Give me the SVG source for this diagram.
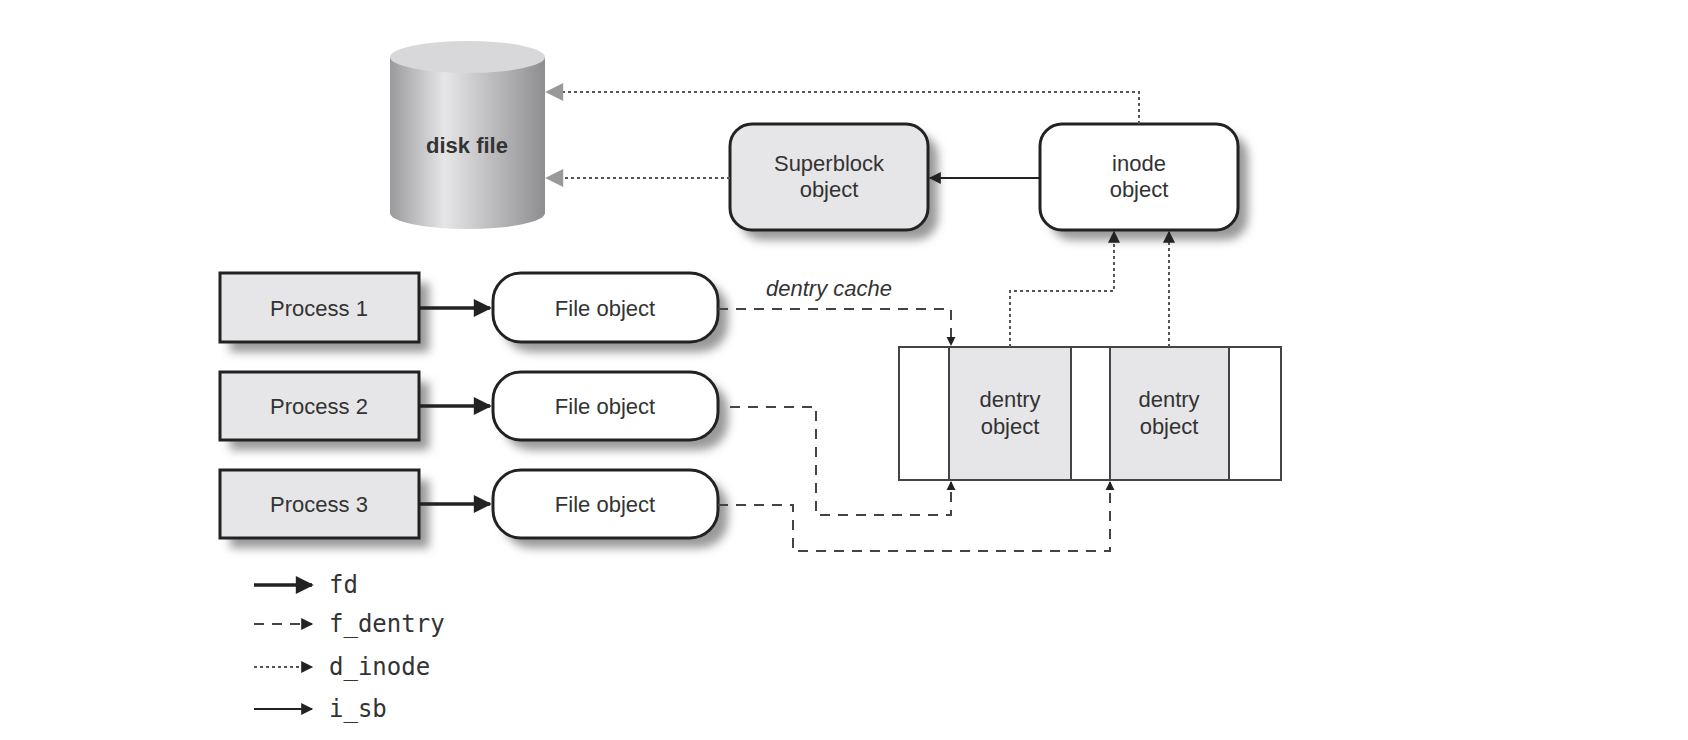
<svg xmlns="http://www.w3.org/2000/svg" width="1688" height="740" viewBox="0 0 1688 740">
<defs>
<linearGradient id="cyl" x1="0" x2="1" y1="0" y2="0"><stop offset="0" stop-color="#9a9a9c"/><stop offset="0.35" stop-color="#e6e6e8"/><stop offset="1" stop-color="#8e8e90"/></linearGradient>
<filter id="sh" x="-20%" y="-20%" width="150%" height="160%"><feGaussianBlur stdDeviation="5"/></filter>
<marker id="ab" viewBox="0 0 10 10" refX="9" refY="5" markerWidth="9" markerHeight="14" orient="auto" markerUnits="userSpaceOnUse"><path d="M0,0L10,5L0,10z" fill="#222"/></marker>
<marker id="abig" viewBox="0 0 10 10" refX="9" refY="5" markerWidth="22" markerHeight="18" orient="auto" markerUnits="userSpaceOnUse"><path d="M0,0L10,5L0,10z" fill="#222"/></marker>
<marker id="am" viewBox="0 0 10 10" refX="9" refY="5" markerWidth="14" markerHeight="12" orient="auto" markerUnits="userSpaceOnUse"><path d="M0,0L10,5L0,10z" fill="#222"/></marker>
<marker id="ag" viewBox="0 0 10 10" refX="9" refY="5" markerWidth="20" markerHeight="18" orient="auto" markerUnits="userSpaceOnUse"><path d="M0,0L10,5L0,10z" fill="#999"/></marker>
</defs>
<style>
.t{font-family:"Liberation Sans",Arial,sans-serif;font-size:22px;fill:#333;text-anchor:middle}
.m{font-family:"DejaVu Sans Mono","Liberation Mono",monospace;font-size:24px;fill:#333}
.proc{fill:#e6e6e8;stroke:#222;stroke-width:3}
.fo{fill:#fff;stroke:#222;stroke-width:3}
.shd{fill:#999;filter:url(#sh)}
.dash{fill:none;stroke:#444;stroke-width:2;stroke-dasharray:10,8}
.dot{fill:none;stroke:#555;stroke-width:2;stroke-dasharray:3,3}
</style>
<g id="diskfile">
<path d="M390,57 V213 A77.5,16 0 0 0 545,213 V57 Z" fill="url(#cyl)"/>
<ellipse cx="467.5" cy="57" rx="77.5" ry="16" fill="#d8d8da"/>
<text class="t" x="467" y="153" font-weight="bold" font-size="26" fill="#555">disk file</text>
</g>
<g id="superblock">
<rect class="shd" x="740" y="134" width="198" height="106" rx="22"/>
<rect class="proc" x="730" y="124" width="198" height="106" rx="22"/>
<text class="t" x="829" y="171">Superblock</text><text class="t" x="829" y="197">object</text>
</g>
<g id="inode">
<rect class="shd" x="1050" y="134" width="198" height="106" rx="22"/>
<rect class="fo" x="1040" y="124" width="198" height="106" rx="22"/>
<text class="t" x="1139" y="171">inode</text><text class="t" x="1139" y="197">object</text>
</g>
<g id="process1"><rect class="shd" x="230" y="283" width="199" height="69"/><rect class="proc" x="220" y="273" width="199" height="69"/><text class="t" x="319" y="316">Process 1</text></g>
<g id="process2"><rect class="shd" x="230" y="382" width="199" height="68"/><rect class="proc" x="220" y="372" width="199" height="68"/><text class="t" x="319" y="414">Process 2</text></g>
<g id="process3"><rect class="shd" x="230" y="480" width="199" height="68"/><rect class="proc" x="220" y="470" width="199" height="68"/><text class="t" x="319" y="512">Process 3</text></g>
<g id="file1"><rect class="shd" x="503" y="283" width="225" height="69" rx="28"/><rect class="fo" x="493" y="273" width="225" height="69" rx="28"/><text class="t" x="605" y="316">File object</text></g>
<g id="file2"><rect class="shd" x="503" y="382" width="225" height="68" rx="28"/><rect class="fo" x="493" y="372" width="225" height="68" rx="28"/><text class="t" x="605" y="414">File object</text></g>
<g id="file3"><rect class="shd" x="503" y="480" width="225" height="68" rx="28"/><rect class="fo" x="493" y="470" width="225" height="68" rx="28"/><text class="t" x="605" y="512">File object</text></g>
<g id="dentrycache">
<rect x="899" y="347" width="382" height="133" fill="#fff" stroke="#444" stroke-width="2"/>
<rect x="949" y="347" width="122" height="133" fill="#e6e6e8" stroke="#444" stroke-width="2"/>
<rect x="1110" y="347" width="119" height="133" fill="#e6e6e8" stroke="#444" stroke-width="2"/>
<text class="t" x="1010" y="407">dentry</text><text class="t" x="1010" y="434">object</text>
<text class="t" x="1169" y="407">dentry</text><text class="t" x="1169" y="434">object</text>
<text class="t" x="829" y="296" font-style="italic" font-size="20">dentry cache</text>
</g>
<g id="connectors">
<path d="M1139,124 V92 H547" class="dot" stroke="#999" marker-end="url(#ag)"/>
<path d="M730,178 H547" class="dot" stroke="#999" marker-end="url(#ag)"/>
<path d="M1040,178 H930" stroke="#222" stroke-width="2" fill="none" marker-end="url(#am)"/>
<path d="M419,308 H490" stroke="#222" stroke-width="3.5" marker-end="url(#abig)"/>
<path d="M419,406 H490" stroke="#222" stroke-width="3.5" marker-end="url(#abig)"/>
<path d="M419,504 H490" stroke="#222" stroke-width="3.5" marker-end="url(#abig)"/>
<path d="M718,309 H951 V345" class="dash" marker-end="url(#ab)"/>
<path d="M730,407 H816 V515 H951 V482" class="dash" marker-end="url(#ab)"/>
<path d="M718,505 H793 V551 H1110 V482" class="dash" marker-end="url(#ab)"/>
<path d="M1010,347 V291 H1114 V232" class="dot" marker-end="url(#am)"/>
<path d="M1169,347 V232" class="dot" marker-end="url(#am)"/>
</g>
<g id="legend">
<path d="M254,585 H312" stroke="#222" stroke-width="3.5" marker-end="url(#abig)"/>
<path d="M254,624 H312" class="dash" marker-end="url(#am)"/>
<path d="M254,667 H312" class="dot" marker-end="url(#am)"/>
<path d="M254,709 H312" stroke="#222" stroke-width="2" marker-end="url(#am)"/>
<text class="m" x="329" y="593">fd</text>
<text class="m" x="329" y="632">f_dentry</text>
<text class="m" x="329" y="675">d_inode</text>
<text class="m" x="329" y="717">i_sb</text>
</g>
</svg>
